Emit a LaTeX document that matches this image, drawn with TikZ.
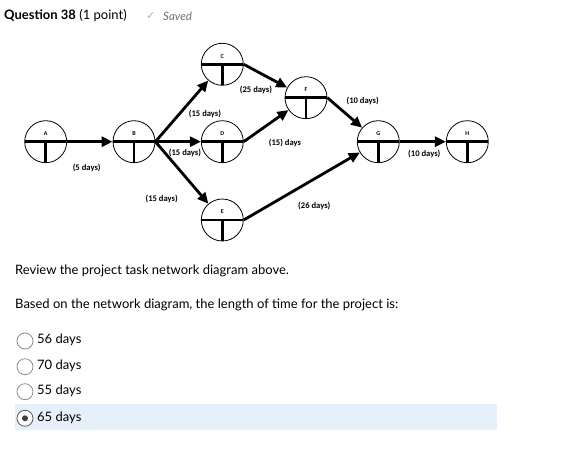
\documentclass[tikz,border=0pt]{standalone}
\usepackage{fontspec}
\setmainfont{Lato}
\newfontfamily\diagfont{Carlito}
\newfontfamily\symfont{DejaVu Sans}
\usetikzlibrary{arrows.meta}
\definecolor{selectband}{HTML}{E6F0FA}
\definecolor{radiogray}{HTML}{8C8C8C}
\definecolor{savedgray}{HTML}{6E6E6E}

\begin{document}
\begin{tikzpicture}[
    x=1pt, y=-1pt,
    eventnode/.style={circle, draw, line width=0.8pt, minimum size=42pt,
                      inner sep=0pt, fill=white,
                      path picture={
                        \draw[line width=2.6pt]
                          (path picture bounding box.west) -- (path picture bounding box.east);
                        \draw[line width=2.6pt]
                          (path picture bounding box.center) -- (path picture bounding box.south);},
                      label={[font=\diagfont\bfseries\fontsize{6}{7}\selectfont,
                              yshift=8pt]center:#1}},
    taskarrow/.style={-{Triangle[length=11pt,width=10pt]}, line width=2.8pt},
    durlabel/.style={font=\diagfont\bfseries\fontsize{8.6}{9}\selectfont, inner sep=0pt},
    bodytext/.style={anchor=west, inner sep=0pt, font=\fontsize{13}{15}\selectfont},
    radio/.style={circle, draw=radiogray, line width=0.8pt, minimum size=16pt,
                  inner sep=0pt, fill=white}
]
\useasboundingbox (0,0) rectangle (584,452);
\fill[white] (0,0) rectangle (584,452);

% header
\node[anchor=west, inner sep=0pt, font=\fontsize{13}{15}\selectfont]
  (title) at (4,16) {\textbf{Question 38} (1 point)};
\node[anchor=west, inner sep=0pt, text=radiogray!70,
      font=\symfont\fontsize{11}{12}\selectfont] (tick) at (146,16) {✓};
\node[anchor=west, inner sep=0pt, text=savedgray,
      font=\itshape\fontsize{11.5}{13}\selectfont] (saved) at (163,16) {Saved};

% network
\node[eventnode=A] (A) at (45.7,141.7) {};
\node[eventnode=B] (B) at (134,141.7) {};
\node[eventnode=C] (C) at (222.3,64.3) {};
\node[eventnode=D] (D) at (222.3,141.7) {};
\node[eventnode=E] (E) at (222.3,220) {};
\node[eventnode=F] (F) at (306,97.7) {};
\node[eventnode=G] (G) at (378.3,141.7) {};
\node[eventnode=H] (H) at (467.3,141.7) {};

\draw[taskarrow] (A.east) -- (B.west);
\draw[taskarrow] (B.east) -- (C);
\draw[taskarrow] (B.east) -- (D.west);
\draw[taskarrow] (B.east) -- (E);
\draw[taskarrow] (C.east) -- (F);
\draw[taskarrow] (D.east) -- (F);
\draw[taskarrow] (E.east) -- (G);
\draw[taskarrow] (F.east) -- (G);
\draw[taskarrow] (G.east) -- (H.west);

\node[durlabel] (dAB) at (86.7,168.3) {(5 days)};
\node[durlabel] (dBC) at (205,114)    {(15 days)};
\node[durlabel] (dBD) at (185,153.3)  {(15 days)};
\node[durlabel] (dBE) at (161.7,199.3){(15 days)};
\node[durlabel] (dCF) at (256,90)     {(25 days)};
\node[durlabel] (dDF) at (285,142.7)  {(15) days};
\node[durlabel] (dFG) at (362.7,100.7){(10 days)};
\node[durlabel] (dGH) at (424.3,154)  {(10 days)};
\node[durlabel] (dEG) at (314.3,206)  {(26 days)};

% question
\node[bodytext] (review) at (15,271) {Review the project task network diagram above.};
\node[bodytext] (based)  at (15,305) {Based on the network diagram, the length of time for the project is:};

\fill[selectband] (15,403.5) rectangle (497,430);

\node[radio] (r1) at (25,341)   {};
\node[radio] (r2) at (25,366.7) {};
\node[radio] (r3) at (25,391.7) {};
\node[radio, draw=black!65] (r4) at (25,418.3) {};
\node[circle, fill=black!75, minimum size=6pt, inner sep=0pt] (dot) at (r4) {};

\node[bodytext] (o1) at (37,339.5) {56 days};
\node[bodytext] (o2) at (37,365.5) {70 days};
\node[bodytext] (o3) at (37,391)   {55 days};
\node[bodytext] (o4) at (37,418)   {65 days};
\end{tikzpicture}
\end{document}
